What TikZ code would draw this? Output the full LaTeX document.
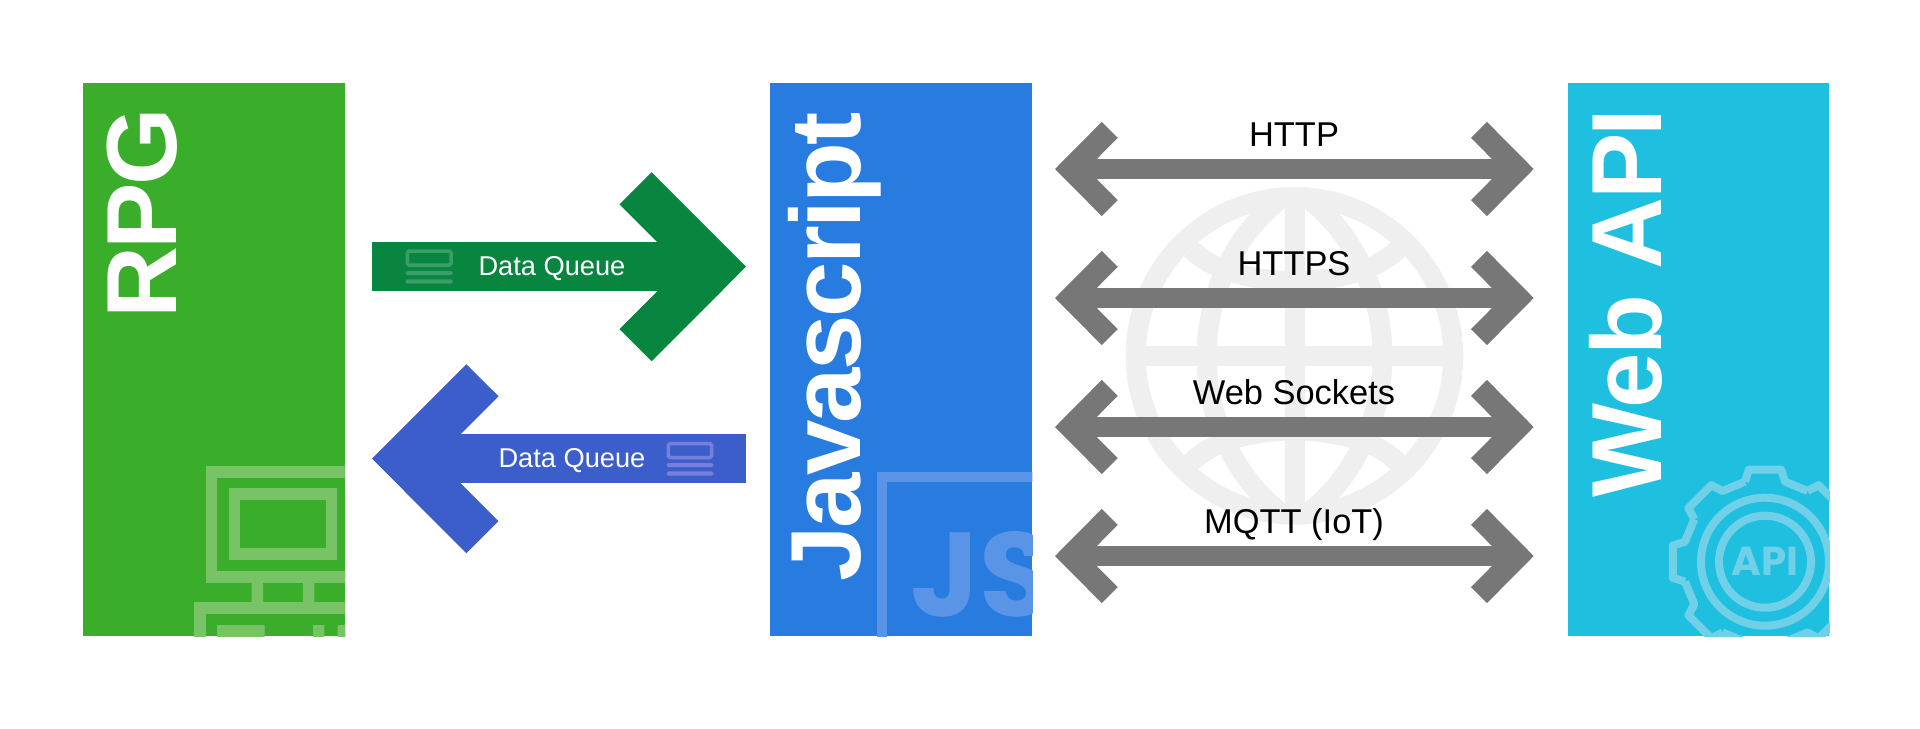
\documentclass[tikz,border=0pt]{standalone}
\usepackage{fontspec}
\usepackage{xcolor}
\usetikzlibrary{arrows.meta}
\setmainfont{Liberation Sans}
\newfontfamily\titlefont{Liberation Sans}[LetterSpace=-2.6]
\newfontfamily\markfont{Poppins}
\definecolor{rpggreen}{HTML}{3AAD2A}
\definecolor{rpgicon}{HTML}{78C366}
\definecolor{jsblue}{HTML}{287CE0}
\definecolor{jsicon}{HTML}{5A94E6}
\definecolor{apicyan}{HTML}{1FBFE0}
\definecolor{apiicon}{HTML}{70D0E8}
\definecolor{qgreen}{HTML}{08853F}
\definecolor{qgreenicon}{HTML}{3A9E68}
\definecolor{qblue}{HTML}{3B5ECB}
\definecolor{qblueicon}{HTML}{7680DC}
\definecolor{linkgray}{HTML}{777777}
\definecolor{globegray}{HTML}{EFEFEF}
\tikzset{
  panel/.style={inner sep=0pt,minimum width=5.24cm,minimum height=11.06cm},
  paneltitle/.style={font=\titlefont\fontsize{56.7}{60}\bfseries,text=white,rotate=90,anchor=base west,inner sep=0pt},
  queuearrow/.style={line width=0.98cm,{Straight Barb[length=1.568cm,width=3.14cm,line width=0.908cm]}-},
  linkarrow/.style={color=linkgray,line width=0.4cm,
    {Straight Barb[length=0.777cm,width=1.566cm,line width=0.452cm]}-{Straight Barb[length=0.777cm,width=1.566cm,line width=0.452cm]}},
  linklabel/.style={font=\fontsize{19.6}{22}\selectfont,anchor=base,inner sep=0pt},
  queuelabel/.style={font=\fontsize{15.5}{18}\selectfont,text=white,anchor=base,inner sep=0pt},
  iconline/.style={line width=0.232cm},
  queueicon/.style={line width=0.07cm,rounded corners=0.03cm},
  globeline/.style={line width=0.4cm,color=globegray}
}
\begin{document}
\begin{tikzpicture}[x=0.02cm,y=-0.02cm,line join=miter]
\useasboundingbox (0,0) rectangle (1920,728);
\node[panel,fill=rpggreen] (rpg) at (214,359.5) {};
\node[panel,fill=jsblue] (js) at (901,359.5) {};
\node[panel,fill=apicyan] (webapi) at (1698.5,359.5) {};
\begin{scope}
  \clip (rpg.north west) rectangle (rpg.south east);
  \draw[iconline,color=rpgicon] (211.5,472) rectangle (370,577);
  \draw[iconline,color=rpgicon] (234.5,494) rectangle (331.5,554);
  \fill[rpgicon] (251.7,582) rectangle (263,603) (303,582) rectangle (314.3,603);
  \draw[iconline,color=rpgicon] (200,608) rectangle (370,670);
  \fill[rpgicon] (217,625) rectangle (264.7,640) (313,625) rectangle (324.3,640) (337.7,625) rectangle (350,640);
\end{scope}
\begin{scope}
  \clip (js.north west) rectangle (js.south east);
  \draw[line width=0.2cm,color=jsicon] (882,660) -- (882,477.3) -- (1060,477.3);
  \node[font=\markfont\fontsize{68}{72}\bfseries,text=jsicon,anchor=base west,inner sep=0pt] (jsmark) at (910,616) {JS};
\end{scope}
\begin{scope}
  \clip (webapi.north west) rectangle (webapi.south east);
  \begin{scope}[shift={(1765,561.7)},line width=0.16cm,color=apiicon,line join=round]
    \foreach \a in {0,45,...,315}
      \draw (\a-14:82.5) -- (\a-10:93.5) -- (\a+10:93.5) -- (\a+14:82.5) -- (\a+31:82.5);
    \draw (0,0) circle[radius=64];
    \draw (0,0) circle[radius=46];
  \end{scope}
  \node[font=\markfont\fontsize{23}{26}\bfseries,text=apiicon,inner sep=0pt] (apimark) at (1765,561.7) {API};
\end{scope}
\node[paneltitle] (rpgtitle) at (176.7,319) {RPG};
\node[paneltitle] (jstitle) at (860.7,582) {Javascript};
\node[paneltitle] (webtitle) at (1661.7,498) {Web API};
\coordinate (qrpg) at (372,266.7);
\coordinate (qjs) at (746,266.7);
\coordinate (qjsb) at (746,458.7);
\coordinate (qrpgb) at (372,458.7);
\draw[queuearrow,color=qgreen] (qjs) -- (qrpg);
\draw[queuearrow,color=qblue] (qrpgb) -- (qjsb);
\draw[queueicon,color=qgreenicon] (407.4,251) rectangle (451,265);
\fill[qgreenicon,rounded corners=0.03cm] (405.7,271) rectangle (452.7,275) (405.7,279.3) rectangle (452.7,283.7);
\draw[queueicon,color=qblueicon] (668.4,443.7) rectangle (711.6,457.6);
\fill[qblueicon,rounded corners=0.03cm] (666.7,463) rectangle (713.3,467) (666.7,471.3) rectangle (713.3,475.7);
\node[queuelabel] (qlabtop) at (552,275) {Data Queue};
\node[queuelabel] (qlabbot) at (572,467) {Data Queue};
\begin{scope}
  \clip (1294.5,355.8) circle[radius=168.8];
  \draw[globeline] (1294.5,355.8) circle[radius=158.8];
  \draw[globeline] (1294.5,190) .. controls (1240,222) and (1206.5,290) .. (1206.5,355.8) .. controls (1206.5,421.6) and (1240,489.6) .. (1294.5,521.6);
  \draw[globeline] (1294.5,190) .. controls (1349,222) and (1382.5,290) .. (1382.5,355.8) .. controls (1382.5,421.6) and (1349,489.6) .. (1294.5,521.6);
  \draw[globeline] (1294.5,190) -- (1294.5,521.6);
  \draw[globeline] (1136,355.8) -- (1453,355.8);
  \draw[globeline] (1191,249) .. controls (1232,291.7) and (1357,291.7) .. (1398,249);
  \draw[globeline] (1191,462.6) .. controls (1232,419.9) and (1357,419.9) .. (1398,462.6);
\end{scope}
\foreach \y/\lab/\nm in {169/HTTP/http,298/HTTPS/https,427/Web Sockets/sockets,556/MQTT (IoT)/mqtt}{
  \coordinate (\nm l) at (1055,\y);
  \coordinate (\nm r) at (1533.7,\y);
  \draw[linkarrow] (\nm l) -- (\nm r);
  \node[linklabel] (\nm) at (1294,\y-23) {\lab};
}
\end{tikzpicture}
\end{document}
